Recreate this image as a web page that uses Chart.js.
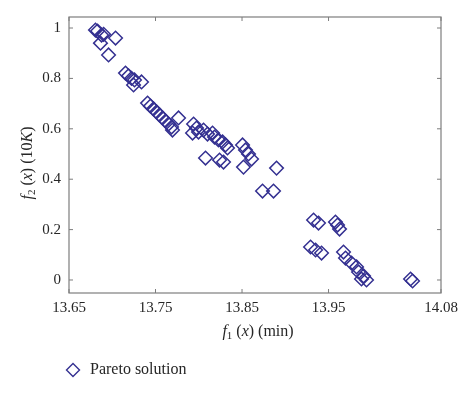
<!DOCTYPE html>
<html>
<head>
<meta charset="utf-8">
<script src="https://cdn.jsdelivr.net/npm/chart.js@4/dist/chart.umd.min.js"></script>
<style>
  html, body { margin: 0; padding: 0; background: #ffffff; }
  #wrap { width: 474px; height: 397px; }
</style>
</head>
<body>
<div id="wrap"><canvas id="c" width="474" height="397"></canvas></div>
<script>
// ---- data ----
const seriesName = "Pareto solution";
const f1Values = [
  13.6806, 13.6830, 13.6876, 13.6900, 13.6864, 13.7038, 13.6957,
  13.7153, 13.7188, 13.7223, 13.7257, 13.7338, 13.7246,
  13.7408, 13.7442, 13.7477, 13.7512, 13.7546, 13.7581, 13.7616, 13.7650, 13.7685, 13.7766, 13.7696,
  13.7940, 13.7974, 13.7997, 13.8055, 13.8101, 13.8159, 13.8182, 13.8228, 13.8275, 13.8309, 13.8332, 13.7928,
  13.8078, 13.8240, 13.8286,
  13.8506, 13.8540, 13.8575, 13.8610, 13.8517, 13.8899, 13.8737, 13.8864,
  13.9327, 13.9384, 13.9580, 13.9604, 13.9627,
  13.9292, 13.9350, 13.9419,
  13.9673, 13.9696, 13.9766, 13.9824, 13.9847, 13.9881, 13.9939, 13.9905,
  14.0448, 14.0471
];
const f2Values = [
  0.992, 0.988, 0.972, 0.975, 0.940, 0.960, 0.893,
  0.821, 0.810, 0.800, 0.794, 0.786, 0.774,
  0.702, 0.690, 0.679, 0.667, 0.655, 0.643, 0.631, 0.619, 0.607, 0.643, 0.595,
  0.619, 0.603, 0.587, 0.595, 0.579, 0.583, 0.567, 0.556, 0.548, 0.536, 0.524, 0.583,
  0.484, 0.476, 0.468,
  0.536, 0.516, 0.500, 0.480, 0.448, 0.444, 0.353, 0.353,
  0.238, 0.226, 0.230, 0.218, 0.202,
  0.131, 0.119, 0.107,
  0.111, 0.087, 0.067, 0.052, 0.032, 0.004, 0.000, 0.016,
  0.004, -0.004
];
const xTicks = [13.65, 13.75, 13.85, 13.95, 14.08];
const yTicks = [0, 0.2, 0.4, 0.6, 0.8, 1];
const xTickLabels = ["13.65", "13.75", "13.85", "13.95", "14.08"];
const yTickLabels = ["0", "0.2", "0.4", "0.6", "0.8", "1"];

const markerColor = "rgb(52,48,145)";
const frameColor = "rgb(125,125,125)";
const textColor = "#262626";
const serif = "'Liberation Serif', 'DejaVu Serif', serif";

const points = f1Values.map((x, i) => ({ x: x, y: f2Values[i] }));

function drawRich(ctx, segs, x, y, align) {
  let total = 0;
  const widths = segs.map(s => {
    ctx.font = (s.italic ? "italic " : "") + (s.sub ? "11px " : "16px ") + serif;
    const w = ctx.measureText(s.t).width;
    total += w;
    return w;
  });
  let cx = align === "center" ? x - total / 2 : x;
  segs.forEach((s, i) => {
    ctx.font = (s.italic ? "italic " : "") + (s.sub ? "11px " : "16px ") + serif;
    ctx.fillText(s.t, cx, y + (s.sub ? 4 : 0));
    cx += widths[i];
  });
}

const decorPlugin = {
  id: "decor",
  afterDraw(chart) {
    const ctx = chart.ctx;
    const a = chart.chartArea;
    const xs = chart.scales.x, ys = chart.scales.y;
    ctx.save();
    ctx.strokeStyle = frameColor;
    ctx.lineWidth = 1.2;
    ctx.strokeRect(a.left, a.top, a.right - a.left, a.bottom - a.top);
    ctx.lineWidth = 1;
    ctx.beginPath();
    xTicks.forEach(v => {
      const px = xs.getPixelForValue(v);
      ctx.moveTo(px, a.bottom); ctx.lineTo(px, a.bottom - 4);
      ctx.moveTo(px, a.top); ctx.lineTo(px, a.top + 4);
    });
    yTicks.forEach(v => {
      const py = ys.getPixelForValue(v);
      ctx.moveTo(a.left, py); ctx.lineTo(a.left + 4, py);
      ctx.moveTo(a.right, py); ctx.lineTo(a.right - 4, py);
    });
    ctx.stroke();

    ctx.fillStyle = textColor;
    ctx.textBaseline = "middle";
    ctx.textAlign = "left";
    drawRich(ctx, [
      { t: "f", italic: true }, { t: "1", sub: true }, { t: " (" },
      { t: "x", italic: true }, { t: ") (min)" }
    ], (a.left + a.right) / 2 + 3, 332, "center");

    ctx.save();
    ctx.translate(28, (a.top + a.bottom) / 2 + 8);
    ctx.rotate(-Math.PI / 2);
    drawRich(ctx, [
      { t: "f", italic: true }, { t: "2", sub: true }, { t: " (" },
      { t: "x", italic: true }, { t: ") (10" }, { t: "K", italic: true }, { t: ")" }
    ], 0, 0, "center");
    ctx.restore();

    const lx = 73, ly = 370, r = 6.5;
    ctx.strokeStyle = markerColor;
    ctx.lineWidth = 1.4;
    ctx.beginPath();
    ctx.moveTo(lx - r, ly); ctx.lineTo(lx, ly - r); ctx.lineTo(lx + r, ly); ctx.lineTo(lx, ly + r);
    ctx.closePath();
    ctx.stroke();
    ctx.fillStyle = textColor;
    ctx.font = "16px " + serif;
    ctx.fillText(seriesName, 90, ly);
    ctx.restore();
  }
};

new Chart(document.getElementById("c"), {
  type: "scatter",
  data: {
    datasets: [{
      label: seriesName,
      data: points,
      pointStyle: "rectRot",
      pointRadius: 6.8,
      pointHoverRadius: 6.8,
      pointBorderWidth: 1.5,
      borderColor: markerColor,
      backgroundColor: "rgba(0,0,0,0)",
      pointBackgroundColor: "rgba(0,0,0,0)"
    }]
  },
  options: {
    responsive: false,
    animation: false,
    events: [],
    layout: { padding: { top: 17, right: 33, bottom: 0, left: 0 } },
    plugins: {
      legend: { display: false },
      tooltip: { enabled: false }
    },
    scales: {
      x: {
        type: "linear",
        min: 13.65,
        max: 14.08,
        afterBuildTicks: s => { s.ticks = xTicks.map(v => ({ value: v })); },
        afterFit: s => { s.height = 104; },
        grid: { display: false, drawTicks: false },
        border: { display: false },
        ticks: {
          autoSkip: false,
          maxRotation: 0,
          padding: 6,
          color: textColor,
          font: { family: serif, size: 15 },
          callback: (v) => { const i = xTicks.indexOf(v); return i >= 0 ? xTickLabels[i] : ""; }
        }
      },
      y: {
        type: "linear",
        min: -0.0516,
        max: 1.0437,
        afterBuildTicks: s => { s.ticks = yTicks.map(v => ({ value: v })); },
        afterFit: s => { s.width = 69; },
        grid: { display: false, drawTicks: false },
        border: { display: false },
        ticks: {
          autoSkip: false,
          padding: 8,
          color: textColor,
          font: { family: serif, size: 15 },
          callback: (v) => { const i = yTicks.indexOf(v); return i >= 0 ? yTickLabels[i] : ""; }
        }
      }
    }
  },
  plugins: [decorPlugin]
});
</script>
</body>
</html>
